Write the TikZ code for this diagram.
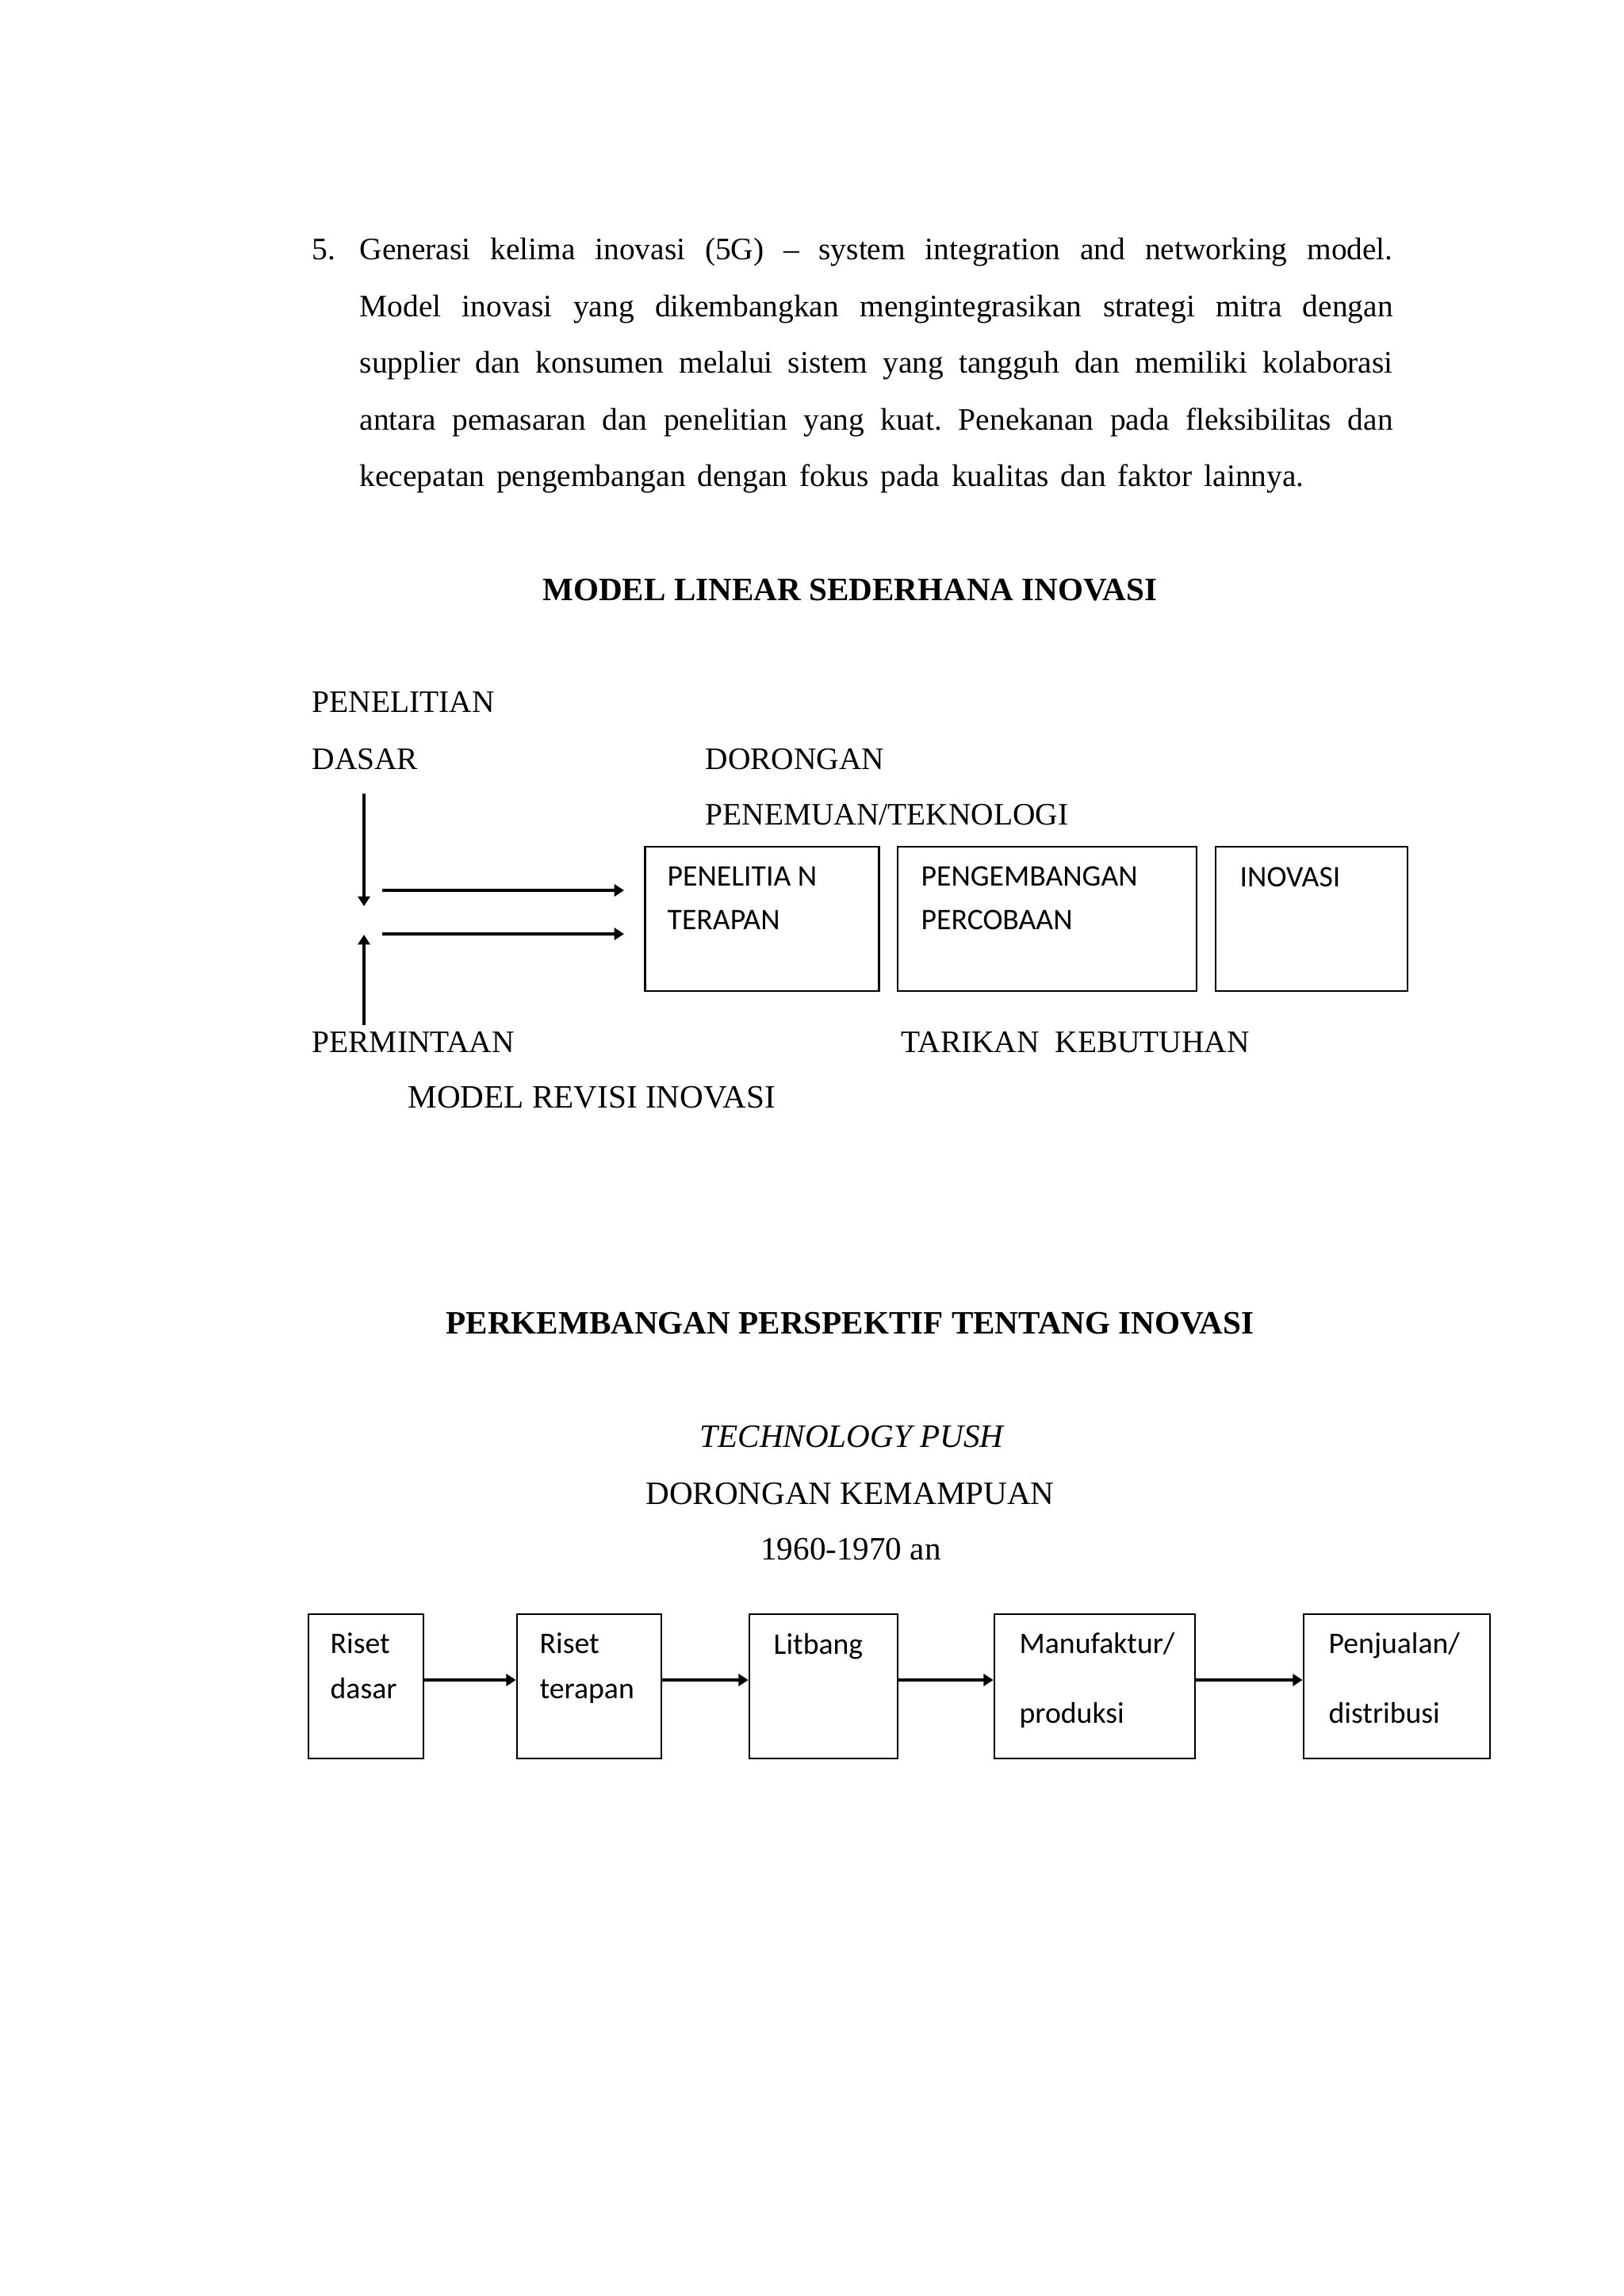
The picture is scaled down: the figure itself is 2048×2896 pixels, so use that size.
\documentclass[tikz,border=0pt]{standalone}
\usepackage{fontspec}
\setmainfont{Liberation Serif}
\newfontfamily\calib{Carlito}
\usetikzlibrary{arrows.meta}
\frenchspacing
\begin{document}
\begin{tikzpicture}[x=0.10254mm,y=-0.10254mm,
  txt/.style={font=\fontsize{11.5}{14}\selectfont, inner sep=0pt, anchor=base west},
  ctxt/.style={font=\fontsize{12}{14}\selectfont, inner sep=0pt, anchor=base},
  btxt/.style={font=\calib\fontsize{11}{13}\selectfont, inner sep=0pt, anchor=base west},
  box/.style={draw, line width=0.8pt, inner sep=0pt, minimum height=18.66mm},
  arr/.style={line width=0.9pt, -{Triangle[length=3.6pt,width=4.4pt]}}
]
\useasboundingbox[fill=white] (0,0) rectangle (2048,2896);

% ---------- paragraph ----------
\node[txt] (num) at (393,327) {5.};
\node[txt] (p1) at (453,327) {\makebox[133.6mm][s]{Generasi kelima inovasi (5G) – system integration and networking model.}};
\node[txt] (p2) at (453,399) {\makebox[133.6mm][s]{Model inovasi yang dikembangkan mengintegrasikan strategi mitra dengan}};
\node[txt] (p3) at (453,470) {\makebox[133.6mm][s]{supplier dan konsumen melalui sistem yang tangguh dan memiliki kolaborasi}};
\node[txt] (p4) at (453,542) {\makebox[133.6mm][s]{antara pemasaran dan penelitian yang kuat. Penekanan pada fleksibilitas dan}};
\node[txt] (p5) at (453,613) {\makebox[122.1mm][s]{kecepatan pengembangan dengan fokus pada kualitas dan faktor lainnya.}};

% ---------- model linear ----------
\node[ctxt, font=\fontsize{12}{14}\selectfont\bfseries] (t1) at (1072,757) {MODEL LINEAR SEDERHANA INOVASI};
\node[txt] (pen) at (393,898) {PENELITIAN};
\node[txt] (das) at (393,970) {DASAR};
\node[txt] (dor) at (889,970) {DORONGAN};
\node[txt] (tek) at (889,1040) {PENEMUAN/TEKNOLOGI};
\node[txt] (per) at (393,1327) {PERMINTAAN};
\node[txt] (tar) at (1136,1327) {TARIKAN\ \ KEBUTUHAN};
\node[txt, font=\fontsize{12}{14}\selectfont] (rev) at (514,1397) {MODEL REVISI INOVASI};

\node[box, minimum width=30.25mm] (a1) at (961,1159) {};
\node[box, minimum width=38.66mm] (a2) at (1320.5,1159) {};
\node[box, minimum width=24.81mm] (a3) at (1654,1159) {};
\node[btxt] (a1t1) at (841,1117) {PENELITIA N};
\node[btxt] (a1t2) at (841,1172) {TERAPAN};
\node[btxt] (a2t1) at (1161,1117) {PENGEMBANGAN};
\node[btxt] (a2t2) at (1161,1172) {PERCOBAAN};
\node[btxt] (a3t1) at (1563,1118) {INOVASI};

\coordinate (vds) at (459,1001);
\coordinate (vde) at (459,1143);
\coordinate (vus) at (459,1293);
\coordinate (vue) at (459,1179);
\coordinate (h1s) at (482,1123);
\coordinate (h1e) at (787,1123);
\coordinate (h2s) at (482,1178);
\coordinate (h2e) at (787,1178);
\draw[arr] (vds) -- (vde);
\draw[arr] (vus) -- (vue);
\draw[arr] (h1s) -- (h1e);
\draw[arr] (h2s) -- (h2e);

% ---------- perkembangan ----------
\node[ctxt, font=\fontsize{12}{14}\selectfont\bfseries] (t2) at (1072,1682) {PERKEMBANGAN PERSPEKTIF TENTANG INOVASI};
\node[ctxt, font=\fontsize{12}{14}\selectfont\itshape] (tp) at (1074,1825) {TECHNOLOGY PUSH};
\node[ctxt] (dk) at (1072,1897) {DORONGAN KEMAMPUAN};
\node[ctxt] (yr) at (1073,1967) {1960-1970 an};

\node[box, minimum width=14.87mm] (b1) at (461.5,2127) {};
\node[box, minimum width=18.66mm] (b2) at (743,2127) {};
\node[box, minimum width=19.17mm] (b3) at (1038.5,2127) {};
\node[box, minimum width=25.94mm] (b4) at (1380.5,2127) {};
\node[box, minimum width=24.10mm] (b5) at (1761.5,2127) {};

\node[btxt] (b1t1) at (416,2085) {Riset};
\node[btxt] (b1t2) at (416,2142) {dasar};
\node[btxt] (b2t1) at (680,2085) {Riset};
\node[btxt] (b2t2) at (680,2142) {terapan};
\node[btxt] (b3t1) at (975,2086) {Litbang};
\node[btxt] (b4t1) at (1285,2085) {Manufaktur/};
\node[btxt] (b4t2) at (1285,2173) {produksi};
\node[btxt] (b5t1) at (1675,2085) {Penjualan/};
\node[btxt] (b5t2) at (1675,2173) {distribusi};

\draw[arr] ([yshift=0.82mm]b1.east) -- ([yshift=0.82mm]b2.west);
\draw[arr] ([yshift=0.82mm]b2.east) -- ([yshift=0.82mm]b3.west);
\draw[arr] ([yshift=0.82mm]b3.east) -- ([yshift=0.82mm]b4.west);
\draw[arr] ([yshift=0.82mm]b4.east) -- ([yshift=0.82mm]b5.west);
\end{tikzpicture}
\end{document}
